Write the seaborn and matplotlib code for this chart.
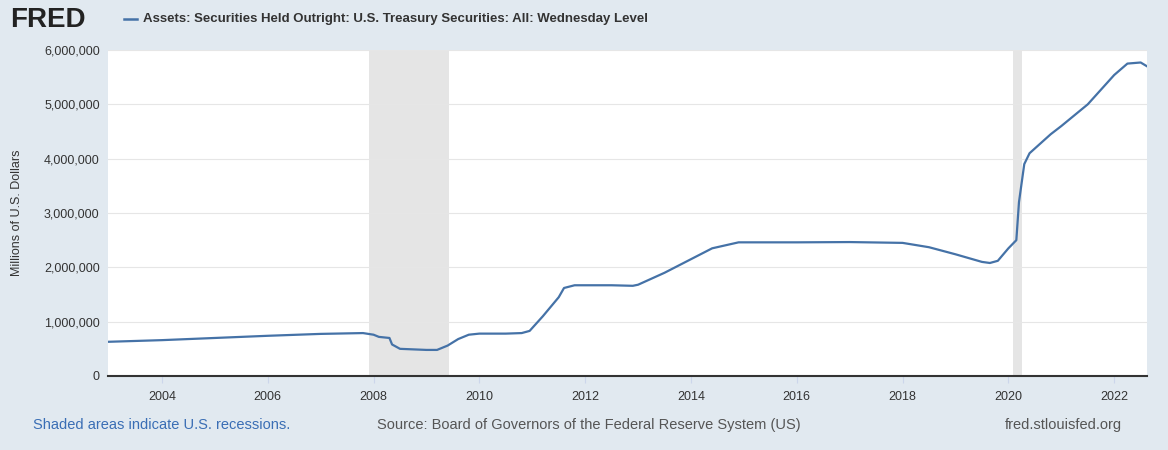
import matplotlib
matplotlib.use("Agg")
import matplotlib.pyplot as plt
import seaborn as sns
import pandas as pd
from matplotlib.ticker import FuncFormatter

years = [2003.0, 2004.0, 2005.0, 2006.0, 2007.0, 2007.8, 2008.0, 2008.1, 2008.3, 2008.35, 2008.5,
         2009.0, 2009.2, 2009.4, 2009.6, 2009.8, 2010.0, 2010.5, 2010.8, 2010.95, 2011.2, 2011.5,
         2011.6, 2011.8, 2012.0, 2012.5, 2012.9, 2013.0, 2013.5, 2014.0, 2014.4, 2014.9, 2015.0,
         2016.0, 2017.0, 2018.0, 2018.5, 2019.0, 2019.5, 2019.65, 2019.8, 2020.0, 2020.15, 2020.2,
         2020.3, 2020.4, 2020.8, 2021.0, 2021.5, 2022.0, 2022.25, 2022.5, 2022.62]
values = [630000, 660000, 700000, 740000, 775000, 790000, 760000, 720000, 700000, 580000, 500000,
          480000, 480000, 560000, 680000, 760000, 780000, 780000, 790000, 830000, 1100000, 1450000,
          1620000, 1670000, 1670000, 1670000, 1660000, 1680000, 1900000, 2150000, 2350000, 2460000, 2460000,
          2460000, 2465000, 2450000, 2370000, 2240000, 2100000, 2080000, 2120000, 2350000, 2500000, 3200000,
          3900000, 4100000, 4450000, 4600000, 5000000, 5540000, 5750000, 5770000, 5700000]
recessions = [(2007.92, 2009.42), (2020.08, 2020.25)]
tick_years = [2004, 2006, 2008, 2010, 2012, 2014, 2016, 2018, 2020, 2022]
title = "Assets: Securities Held Outright: U.S. Treasury Securities: All: Wednesday Level"

plt.rcParams["font.family"] = "Liberation Sans"
bg = "#e1e9f0"
fig = plt.figure(figsize=(11.68, 4.5), dpi=100, facecolor=bg)
ax = fig.add_axes([108/1168, 1-376/450, (1147-108)/1168, (376-50)/450])
ax.set_facecolor("white")
df = pd.DataFrame({"year": years, "value": values})
for a, b in recessions:
    ax.axvspan(a, b, color="#e5e5e5", lw=0, zorder=0)
sns.lineplot(data=df, x="year", y="value", ax=ax, color="#4572a7", lw=1.6, zorder=3)
ax.set_xlim(2002.98, 2022.62)
ax.set_ylim(0, 6000000)
ax.set_yticks(range(0, 6000001, 1000000))
ax.yaxis.set_major_formatter(FuncFormatter(lambda v, p: f"{int(v):,}"))
ax.set_xticks(tick_years)
ax.set_xticklabels([str(t) for t in tick_years])
ax.grid(axis="y", color="#e6e6e6", lw=0.8, zorder=1)
for s in ["top", "right", "left"]:
    ax.spines[s].set_visible(False)
ax.spines["bottom"].set_color("#333333")
ax.spines["bottom"].set_linewidth(1.5)
ax.tick_params(axis="y", length=0, labelsize=9, colors="#333333", pad=6)
ax.tick_params(axis="x", length=5, color="#ccd6eb", labelsize=9, colors="#333333", pad=6)
ax.set_xlabel("")
ax.set_ylabel("Millions of U.S. Dollars", fontsize=9, color="#333333", labelpad=10)
ax.yaxis.set_label_coords(-0.082, 0.5)

fig.text(10/1168, 1-20/450, "FRED", fontsize=20, fontweight="bold", color="#222222", va="center")
fig.plot([124/1168, 137/1168], [1-20/450]*2, color="#4572a7", lw=1.8, transform=fig.transFigure) if False else None
fig.add_artist(plt.Line2D([124/1168, 137/1168], [1-19/450]*2, color="#4572a7", lw=1.8, transform=fig.transFigure))
fig.text(143/1168, 1-19/450, title, fontsize=9.5, fontweight="bold", color="#333333", va="center")

fig.text(33/1168, 1-425/450, "Shaded areas indicate U.S. recessions.", fontsize=10.5, color="#3a6eb5", va="center")
fig.text(377/1168, 1-425/450, "Source: Board of Governors of the Federal Reserve System (US)", fontsize=10.5, color="#555555", va="center")
fig.text(1005/1168, 1-425/450, "fred.stlouisfed.org", fontsize=10.5, color="#555555", va="center")

fig.savefig("out.png", dpi=100, facecolor=bg)
